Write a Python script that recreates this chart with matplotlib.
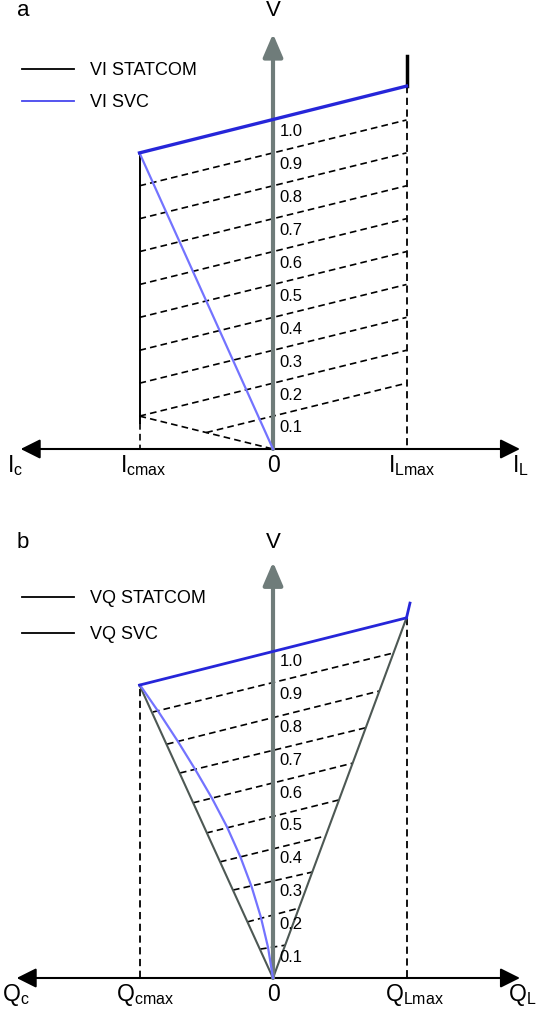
import matplotlib
matplotlib.use('Agg')
import matplotlib.pyplot as plt

plt.rcParams['font.family'] = ['Liberation Sans', 'DejaVu Sans']
plt.rcParams['mathtext.fontset'] = 'custom'
plt.rcParams['mathtext.rm'] = 'Liberation Sans'
plt.rcParams['mathtext.it'] = 'Liberation Sans'
plt.rcParams['mathtext.default'] = 'regular'

# ---- data (x in units of Icmax/ILmax, V in pu) ----
level_labels = ['1.0', '0.9', '0.8', '0.7', '0.6', '0.5', '0.4', '0.3', '0.2', '0.1']
level_values = [1.0, 0.9, 0.8, 0.7, 0.6, 0.5, 0.4, 0.3, 0.2, 0.1]

# panel a: VI characteristic
a_top_i = [-1.0, 1.0]
a_top_v = [0.9, 1.103]
a_limit_i = [1.0, 1.0]
a_limit_v = [1.103, 1.195]
a_cap_solid_v = [0.9, 0.08]
a_cap_dash_v = [0.08, 0.0]
a_ind_dash_v = [1.103, 0.0]
a_lvl_i_left = [-1.0, -1.0, -1.0, -1.0, -1.0, -1.0, -1.0, -1.0, -0.5]
a_lvl_v_left = [0.8, 0.7, 0.6, 0.5, 0.4, 0.3, 0.2, 0.1, 0.05]
a_lvl_i_right = [1.0, 1.0, 1.0, 1.0, 1.0, 1.0, 1.0, 1.0, 1.0]
a_lvl_v_right = [1.0, 0.9, 0.8, 0.7, 0.6, 0.5, 0.4, 0.3, 0.2]
a_knee_i = [-1.0, 0.0]
a_knee_v = [0.1, 0.0]
a_svc_i = [-1.0, 0.0]
a_svc_v = [0.9, 0.0]

# panel b: VQ characteristic
b_top_q = [-1.0, 1.0]
b_top_v = [0.893, 1.098]
b_ext_q = [1.0, 1.026]
b_ext_v = [1.098, 1.143]
b_left_q = [-1.0, 0.0]
b_left_v = [0.893, 0.0]
b_right_q = [1.0, 0.0]
b_right_v = [1.098, 0.0]
b_cap_dash_v = [0.88, 0.0]
b_ind_dash_v = [1.098, 0.0]
b_lvl_q_left = [-0.899, -0.794, -0.697, -0.600, -0.500, -0.397, -0.300, -0.192, -0.097]
b_lvl_v_left = [0.811, 0.713, 0.625, 0.534, 0.442, 0.354, 0.268, 0.171, 0.088]
b_lvl_q_right = [0.903, 0.797, 0.695, 0.597, 0.495, 0.394, 0.294, 0.194, 0.091]
b_lvl_v_right = [0.991, 0.875, 0.763, 0.655, 0.543, 0.433, 0.323, 0.213, 0.100]
b_svc_q = [-0.996, -0.850, -0.712, -0.580, -0.457, -0.345, -0.245, -0.160, -0.092, -0.038, 0.0]
b_svc_v = [0.893, 0.807, 0.721, 0.634, 0.548, 0.461, 0.370, 0.278, 0.187, 0.095, 0.0]

# ---- layout in pixels ----
W, H = 544, 1010
x0, xs = 273, 133.5

AXIS_GRAY = '#6f7c7a'
BOUND_GRAY = '#4d5854'
BLUE_DARK = '#2626d9'
BLUE_LIGHT = '#7373ff'
DASH = (0, (4, 2.5))
LBL = 16.5

fig = plt.figure(figsize=(W / 100, H / 100), dpi=100)


def make_axes(top_px, y0, ys):
    ax = fig.add_axes([0, 1 - (top_px + 505) / H, 1, 505 / H])
    ax.set_xlim(-x0 / xs, (W - x0) / xs)
    ax.set_ylim((y0 - (top_px + 505)) / ys, (y0 - top_px) / ys)
    ax.axis('off')
    return ax


def axes_arrows(ax, left, right, vtip):
    ax.annotate('', xy=(right, 0), xytext=(left, 0),
                arrowprops=dict(arrowstyle='<|-|>,head_length=0.6,head_width=0.3',
                                color='black', lw=1.5, mutation_scale=20,
                                shrinkA=0, shrinkB=0), zorder=3)
    ax.annotate('', xy=(0, vtip), xytext=(0, 0),
                arrowprops=dict(arrowstyle='-|>,head_length=0.7,head_width=0.3',
                                color=AXIS_GRAY, lw=3, mutation_scale=20,
                                shrinkA=0, shrinkB=0), zorder=3)


def level_text(ax):
    for lab, v in zip(level_labels, level_values):
        ax.text(0.05, v - 0.036, lab, fontsize=12, ha='left', va='center', zorder=6)


def axis_labels(ax, names, xpos):
    for name, xp in zip(names, xpos):
        ax.text(xp, -0.07, name, fontsize=LBL, ha='center', va='baseline')


# ---------------- panel a ----------------
ax = make_axes(0, 449, 329)
for il, vl, ir, vr in zip(a_lvl_i_left, a_lvl_v_left, a_lvl_i_right, a_lvl_v_right):
    ax.plot([il, ir], [vl, vr], color='black', lw=1.2, ls=DASH, zorder=2)
ax.plot(a_knee_i, a_knee_v, color='black', lw=1.2, ls=DASH, zorder=2)
ax.plot([-1, -1], a_cap_solid_v, color='black', lw=1.4, zorder=2)
ax.plot([-1, -1], a_cap_dash_v, color='black', lw=1.2, ls=DASH, zorder=2)
ax.plot([1, 1], a_ind_dash_v, color='black', lw=1.3, ls=DASH, zorder=2)
axes_arrows(ax, -1.89, 1.85, 1.262)
ax.plot(a_limit_i, a_limit_v, color='black', lw=2.5, zorder=4)
ax.plot(a_svc_i, a_svc_v, color=BLUE_LIGHT, lw=1.6, zorder=4)
ax.plot(a_top_i, a_top_v, color=BLUE_DARK, lw=2.4, zorder=5)
level_text(ax)

h1, = ax.plot([], [], color='black', lw=1.3, label='VI STATCOM')
h2, = ax.plot([], [], color='#4646ee', lw=1.3, label='VI SVC')
ax.legend(handles=[h1, h2], loc='upper left', bbox_to_anchor=(22 / W, 1 - 62 / H),
          bbox_transform=fig.transFigure, frameon=False, fontsize=13,
          handlelength=2.9, handletextpad=0.85, labelspacing=0.85,
          borderpad=0, borderaxespad=0)

axis_labels(ax, ['$I_c$', '$I_{cmax}$', '0', '$I_{Lmax}$', '$I_L$'],
            [-1.93, -0.97, 0.0, 1.04, 1.85])

# ---------------- panel b ----------------
bx = make_axes(505, 978, 328)
for ql, vl, qr, vr in zip(b_lvl_q_left, b_lvl_v_left, b_lvl_q_right, b_lvl_v_right):
    bx.plot([ql, qr], [vl, vr], color='black', lw=1.2, ls=DASH, zorder=2)
bx.plot([-1, -1], b_cap_dash_v, color='black', lw=1.3, ls=DASH, zorder=2)
bx.plot([1, 1], b_ind_dash_v, color='black', lw=1.3, ls=DASH, zorder=2)
bx.plot(b_left_q, b_left_v, color=BOUND_GRAY, lw=1.5, zorder=3)
bx.plot(b_right_q, b_right_v, color=BOUND_GRAY, lw=1.5, zorder=3)
axes_arrows(bx, -1.92, 1.85, 1.268)
bx.plot(b_svc_q, b_svc_v, color=BLUE_LIGHT, lw=1.6, zorder=4)
bx.plot(b_top_q, b_top_v, color=BLUE_DARK, lw=2.0, zorder=5)
bx.plot(b_ext_q, b_ext_v, color=BLUE_DARK, lw=2.0, zorder=5)
level_text(bx)

g1, = bx.plot([], [], color='black', lw=1.3, label='VQ STATCOM')
g2, = bx.plot([], [], color='black', lw=1.3, label='VQ SVC')
bx.legend(handles=[g1, g2], loc='upper left', bbox_to_anchor=(22 / W, 1 - 590 / H),
          bbox_transform=fig.transFigure, frameon=False, fontsize=13,
          handlelength=2.9, handletextpad=0.85, labelspacing=1.05,
          borderpad=0, borderaxespad=0)

axis_labels(bx, ['$Q_c$', '$Q_{cmax}$', '0', '$Q_{Lmax}$', '$Q_L$'],
            [-1.93, -0.96, 0.0, 1.06, 1.87])

# panel letters and axis names
fig.text(23 / W, 1 - 11 / H, 'a', fontsize=16, ha='center', va='center')
fig.text(x0 / W, 1 - 11 / H, 'V', fontsize=16, ha='center', va='center')
fig.text(23 / W, 1 - 542 / H, 'b', fontsize=16, ha='center', va='center')
fig.text(x0 / W, 1 - 542 / H, 'V', fontsize=16, ha='center', va='center')

fig.savefig('out.png', dpi=100)
